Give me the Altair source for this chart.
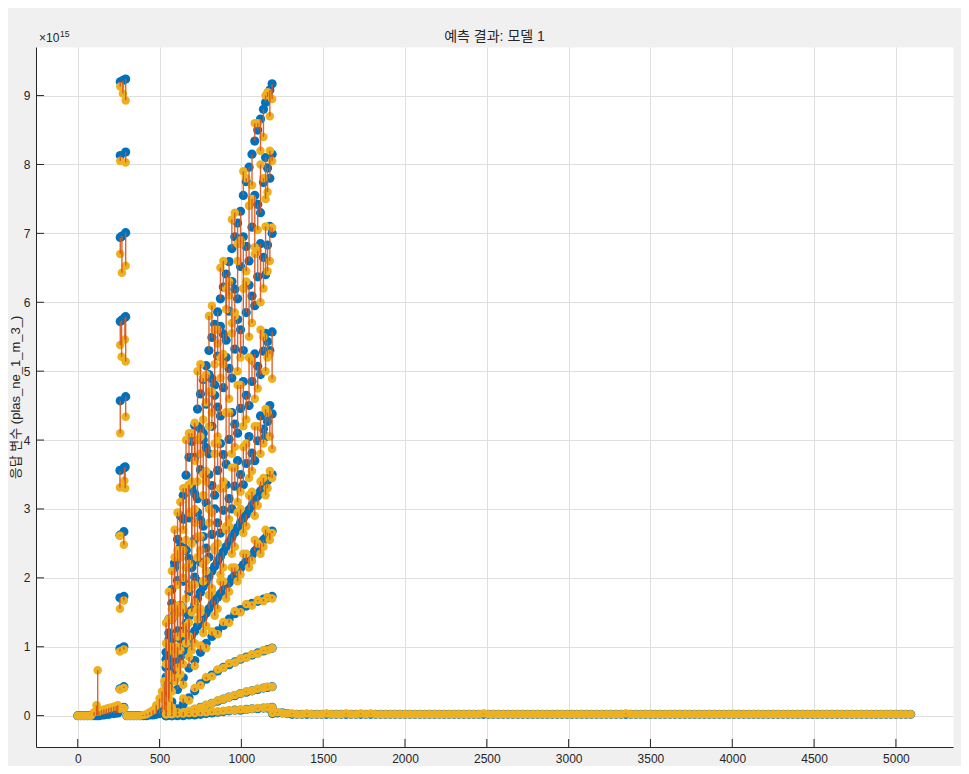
import altair as alt
import pandas as pd

# ---------------- data (units of 1e15) ----------------
# records 0-530: near-zero stretch with a small bump and one outlier prediction
low_rec = [0, 20, 40, 60, 80, 100, 115, 122, 130, 145, 160, 175, 190, 205, 220, 235, 245,
           300, 320, 340, 360, 380, 400, 420, 440, 460, 480, 500, 515, 530]
low_true = [0, 0, 0, 0, 0, 0.0, 0.0, 0.01, 0.0, 0.01, 0.01, 0.02, 0.02, 0.03, 0.03, 0.04, 0.04,
            0, 0, 0, 0, 0, 0, 0, 0.01, 0.01, 0.02, 0.03, 0.05, 0.08]
low_pred = [0, 0, 0, 0, 0, 0.05, 0.15, 0.66, 0.06, 0.08, 0.09, 0.10, 0.11, 0.12, 0.13, 0.14, 0.15,
            0, 0, 0, 0, 0, 0.01, 0.02, 0.05, 0.08, 0.15, 0.25, 0.35, 0.50]

# records ~255-295: the tall "ladder" of levels
ladder_rec = [260, 276, 293, 260, 293, 260, 270, 293, 260, 268, 288, 293, 260, 293,
              258, 285, 290, 258, 282, 258, 282, 258, 282, 258, 282, 258, 282]
ladder_true = [9.20, 9.22, 9.24, 8.13, 8.18, 6.94, 6.96, 7.01, 5.72, 5.74, 5.78, 5.79, 4.57, 4.63,
               3.56, 3.60, 3.61, 2.62, 2.67, 1.71, 1.73, 0.97, 1.00, 0.39, 0.42, 0.10, 0.12]
ladder_pred = [9.13, 9.03, 8.93, 8.05, 8.03, 6.70, 6.43, 6.53, 5.38, 5.21, 5.46, 5.14, 4.10, 4.34,
               3.31, 3.41, 3.30, 2.61, 2.48, 1.55, 1.67, 0.93, 0.96, 0.38, 0.40, 0.10, 0.11]

# records 540-1188: the fan of rising series (first set of records)
fan_rec = [540, 575, 610, 645, 680, 715, 750, 785, 820, 855,
           890, 925, 960, 995, 1030, 1065, 1100, 1135, 1160, 1188]

fan_true_1 = [0.92, 1.83, 2.56, 3.20, 3.75, 4.21, 4.67, 5.08, 5.49, 5.86,
              6.22, 6.59, 6.95, 7.32, 7.75, 8.15, 8.50, 8.80, 8.98, 9.17]
fan_pred_1 = [1.35, 1.40, 2.95, 2.70, 4.10, 3.70, 5.10, 4.55, 5.95, 5.40,
              6.60, 6.10, 7.30, 6.85, 7.80, 7.70, 8.60, 8.40, 9.05, 8.95]
fan_true_2 = [0.82, 1.63, 2.28, 2.85, 3.34, 3.75, 4.16, 4.52, 4.89, 5.22,
              5.54, 5.87, 6.19, 6.52, 6.81, 7.09, 7.42, 7.74, 7.95, 8.15]
fan_pred_2 = [0.50, 2.10, 1.90, 3.30, 2.95, 4.25, 3.80, 4.95, 4.40, 5.60,
              5.10, 6.30, 5.85, 6.90, 6.45, 7.50, 7.05, 7.80, 7.60, 8.05]
fan_true_3 = [0.70, 1.40, 1.96, 2.45, 2.87, 3.22, 3.57, 3.89, 4.20, 4.48,
              4.76, 5.04, 5.32, 5.60, 5.85, 6.09, 6.37, 6.65, 6.83, 7.00]
fan_pred_3 = [1.05, 0.95, 2.40, 2.00, 3.35, 2.80, 4.05, 3.40, 4.70, 4.05,
              5.25, 4.60, 5.80, 5.20, 6.30, 5.70, 6.75, 6.20, 6.45, 7.08]
fan_true_4 = [0.56, 1.11, 1.56, 1.95, 2.28, 2.56, 2.84, 3.09, 3.34, 3.56,
              3.79, 4.01, 4.23, 4.46, 4.65, 4.85, 5.07, 5.29, 5.43, 5.57]
fan_pred_4 = [0.30, 1.55, 1.15, 2.40, 1.85, 3.00, 2.40, 3.55, 2.95, 3.95,
              3.40, 4.40, 3.90, 4.80, 4.30, 5.15, 4.75, 5.50, 5.20, 4.89]
fan_true_5 = [0.44, 0.88, 1.23, 1.53, 1.80, 2.01, 2.23, 2.43, 2.63, 2.80,
              2.98, 3.15, 3.33, 3.50, 3.66, 3.81, 3.99, 4.16, 4.27, 4.38]
fan_pred_5 = [0.75, 0.55, 1.60, 1.20, 2.20, 1.65, 2.60, 2.10, 2.95, 2.50,
              3.30, 2.85, 3.60, 3.25, 3.95, 3.55, 4.20, 3.95, 4.40, 3.87]
fan_true_6 = [0.35, 0.70, 0.98, 1.23, 1.44, 1.61, 1.79, 1.94, 2.10, 2.24,
              2.38, 2.52, 2.66, 2.80, 2.92, 3.05, 3.19, 3.33, 3.41, 3.50]
fan_pred_6 = [0.15, 1.00, 0.70, 1.55, 1.15, 1.90, 1.50, 2.25, 1.85, 2.50,
              2.15, 2.75, 2.45, 3.00, 2.75, 3.25, 3.05, 3.45, 3.30, 3.45]
fan_true_7 = [0.27, 0.54, 0.75, 0.94, 1.10, 1.23, 1.37, 1.49, 1.61, 1.72,
              1.82, 1.93, 2.04, 2.14, 2.24, 2.33, 2.44, 2.55, 2.61, 2.68]
fan_pred_7 = [0.45, 0.35, 1.00, 0.75, 1.35, 1.05, 1.55, 1.30, 1.80, 1.55,
              1.95, 1.80, 2.15, 2.05, 2.35, 2.25, 2.50, 2.45, 2.66, 2.65]
fan_true_8 = [0.05, 0.20, 0.38, 0.55, 0.69, 0.80, 0.92, 1.05, 1.15, 1.23,
              1.31, 1.40, 1.48, 1.54, 1.59, 1.63, 1.66, 1.69, 1.71, 1.73]
fan_pred_8 = [0.20, 0.10, 0.55, 0.45, 0.85, 0.72, 1.02, 0.98, 1.22, 1.18,
              1.36, 1.35, 1.52, 1.50, 1.62, 1.60, 1.68, 1.66, 1.72, 1.70]
fan_true_9 = [0.00, 0.04, 0.10, 0.17, 0.26, 0.36, 0.46, 0.53, 0.59, 0.65,
              0.70, 0.74, 0.78, 0.82, 0.85, 0.88, 0.91, 0.94, 0.96, 0.98]
fan_pred_9 = [0.08, 0.12, 0.05, 0.25, 0.22, 0.40, 0.44, 0.56, 0.57, 0.67,
              0.69, 0.76, 0.77, 0.83, 0.84, 0.89, 0.90, 0.95, 0.95, 0.98]
fan_true_10 = [0.00, 0.00, 0.01, 0.03, 0.06, 0.09, 0.12, 0.15, 0.18, 0.21,
               0.24, 0.27, 0.29, 0.32, 0.34, 0.36, 0.38, 0.40, 0.41, 0.42]
fan_pred_10 = [0.02, 0.03, 0.04, 0.05, 0.07, 0.10, 0.12, 0.16, 0.18, 0.22,
               0.24, 0.27, 0.30, 0.32, 0.35, 0.36, 0.39, 0.40, 0.42, 0.42]
fan_true_11 = [0.00, 0.00, 0.00, 0.00, 0.01, 0.01, 0.02, 0.03, 0.04, 0.05,
               0.06, 0.07, 0.08, 0.08, 0.09, 0.10, 0.10, 0.11, 0.11, 0.12]
fan_pred_11 = [0.02, 0.02, 0.03, 0.03, 0.04, 0.04, 0.05, 0.05, 0.06, 0.06,
               0.07, 0.08, 0.08, 0.09, 0.09, 0.10, 0.11, 0.11, 0.12, 0.12]

# records 557-1174: the fan, second (interleaved) set of records for the upper series
fan2_rec = [557, 592, 627, 662, 697, 732, 767, 802, 837, 872,
            907, 942, 977, 1012, 1047, 1082, 1117, 1148, 1174]

fan2_true_1 = [1.40, 2.22, 2.90, 3.49, 3.98, 4.45, 4.88, 5.30, 5.68, 6.05,
               6.41, 6.78, 7.15, 7.55, 7.96, 8.34, 8.66, 8.90, 9.08]
fan2_pred_1 = [0.60, 2.70, 2.30, 4.00, 3.40, 5.00, 4.30, 5.80, 5.10, 6.50,
               5.90, 7.20, 6.60, 7.90, 7.40, 8.60, 8.20, 9.00, 8.70]
fan2_true_2 = [1.10, 2.15, 2.40, 3.30, 3.35, 4.20, 4.10, 4.95, 4.80, 5.65,
               5.45, 6.30, 6.05, 6.95, 6.60, 7.55, 7.30, 8.10, 7.80]
fan2_pred_2 = [1.80, 1.45, 3.10, 2.55, 4.10, 3.40, 4.90, 4.20, 5.60, 4.90,
               6.20, 5.55, 6.85, 6.20, 7.40, 6.80, 8.00, 7.50, 8.20]
fan2_true_3 = [1.20, 1.50, 2.45, 2.40, 3.30, 3.15, 4.00, 3.80, 4.65, 4.35,
               5.20, 4.90, 5.75, 5.30, 6.25, 5.95, 6.85, 6.40, 7.10]
fan2_pred_3 = [0.40, 2.30, 1.60, 3.30, 2.50, 4.00, 3.20, 4.70, 3.80, 5.20,
               4.40, 5.70, 5.00, 6.20, 5.50, 6.70, 6.00, 7.10, 6.60]
fan2_true_4 = [0.70, 1.55, 1.60, 2.40, 2.20, 2.95, 2.75, 3.50, 3.20, 3.95,
               3.65, 4.40, 4.10, 4.85, 4.50, 5.25, 4.95, 5.55, 5.30]
fan2_pred_4 = [1.40, 0.90, 2.30, 1.70, 2.95, 2.30, 3.50, 2.80, 3.95, 3.30,
               4.40, 3.80, 4.80, 4.20, 5.20, 4.60, 5.60, 5.00, 5.25]
fan2_true_5 = [0.80, 0.95, 1.60, 1.50, 2.15, 1.95, 2.60, 2.30, 3.00, 2.65,
               3.35, 3.00, 3.70, 3.35, 4.05, 3.70, 4.35, 4.05, 4.50]
fan2_pred_5 = [0.25, 1.55, 0.95, 2.15, 1.50, 2.60, 1.95, 3.00, 2.40, 3.30,
               2.75, 3.60, 3.10, 3.90, 3.45, 4.20, 3.80, 4.45, 4.05]
fan2_true_6 = [0.53, 0.84, 1.11, 1.34, 1.53, 1.70, 1.87, 2.02, 2.17, 2.31,
               2.45, 2.59, 2.73, 2.86, 2.99, 3.12, 3.26, 3.37, 3.46]
fan2_pred_6 = [1.00, 0.50, 1.50, 1.05, 1.90, 1.40, 2.20, 1.75, 2.45, 2.05,
               2.70, 2.35, 2.95, 2.65, 3.20, 2.90, 3.40, 3.20, 3.55]
fan2_true_7 = [0.41, 0.65, 0.85, 1.02, 1.17, 1.30, 1.43, 1.55, 1.67, 1.77,
               1.88, 1.99, 2.09, 2.19, 2.29, 2.39, 2.50, 2.58, 2.65]
fan2_pred_7 = [0.20, 0.95, 0.60, 1.30, 0.95, 1.55, 1.20, 1.75, 1.45, 1.95,
               1.70, 2.15, 1.95, 2.35, 2.15, 2.55, 2.35, 2.70, 2.55]

# records 1190-5090: flat band just above zero
band_rec = [1190, 1220, 1250, 1280, 1310, 1340, 1370, 1400, 1430, 1460,
            1490, 1520, 1550, 1580, 1610, 1640, 1670, 1700, 1730, 1760,
            1790, 1820, 1850, 1880, 1910, 1940, 1970, 2000, 2030, 2060,
            2090, 2120, 2150, 2180, 2210, 2240, 2270, 2300, 2330, 2360,
            2390, 2420, 2450, 2480, 2510, 2540, 2570, 2600, 2630, 2660,
            2690, 2720, 2750, 2780, 2810, 2840, 2870, 2900, 2930, 2960,
            2990, 3020, 3050, 3080, 3110, 3140, 3170, 3200, 3230, 3260,
            3290, 3320, 3350, 3380, 3410, 3440, 3470, 3500, 3530, 3560,
            3590, 3620, 3650, 3680, 3710, 3740, 3770, 3800, 3830, 3860,
            3890, 3920, 3950, 3980, 4010, 4040, 4070, 4100, 4130, 4160,
            4190, 4220, 4250, 4280, 4310, 4340, 4370, 4400, 4430, 4460,
            4490, 4520, 4550, 4580, 4610, 4640, 4670, 4700, 4730, 4760,
            4790, 4820, 4850, 4880, 4910, 4940, 4970, 5000, 5030, 5060,
            5090]
band_true = [0.03, 0.04, 0.04, 0.03, 0.02, 0.02, 0.02, 0.02, 0.02, 0.02,
             0.02, 0.02, 0.02, 0.02, 0.02, 0.02, 0.02, 0.02, 0.02, 0.02,
             0.02, 0.02, 0.02, 0.02, 0.02, 0.02, 0.02, 0.02, 0.02, 0.02,
             0.02, 0.02, 0.02, 0.02, 0.02, 0.02, 0.02, 0.02, 0.02, 0.02,
             0.02, 0.02, 0.02, 0.02, 0.02, 0.02, 0.02, 0.02, 0.02, 0.02,
             0.02, 0.02, 0.02, 0.02, 0.02, 0.02, 0.02, 0.02, 0.02, 0.02,
             0.02, 0.02, 0.02, 0.02, 0.02, 0.02, 0.02, 0.02, 0.02, 0.02,
             0.02, 0.02, 0.02, 0.02, 0.02, 0.02, 0.02, 0.02, 0.02, 0.02,
             0.02, 0.02, 0.02, 0.02, 0.02, 0.02, 0.02, 0.02, 0.02, 0.02,
             0.02, 0.02, 0.02, 0.02, 0.02, 0.02, 0.02, 0.02, 0.02, 0.02,
             0.02, 0.02, 0.02, 0.02, 0.02, 0.02, 0.02, 0.02, 0.02, 0.02,
             0.02, 0.02, 0.02, 0.02, 0.02, 0.02, 0.02, 0.02, 0.02, 0.02,
             0.02, 0.02, 0.02, 0.02, 0.02, 0.02, 0.02, 0.02, 0.02, 0.02,
             0.02]
band_pred = [0.04, 0.05, 0.04, 0.03, 0.03, 0.02, 0.02, 0.03, 0.02, 0.02,
             0.02, 0.03, 0.02, 0.02, 0.02, 0.03, 0.02, 0.02, 0.03, 0.02,
             0.03, 0.02, 0.02, 0.02, 0.02, 0.02, 0.02, 0.02, 0.02, 0.02,
             0.02, 0.02, 0.02, 0.02, 0.02, 0.02, 0.02, 0.02, 0.02, 0.02,
             0.02, 0.02, 0.02, 0.03, 0.02, 0.02, 0.02, 0.02, 0.02, 0.02,
             0.02, 0.02, 0.02, 0.02, 0.02, 0.02, 0.02, 0.02, 0.02, 0.02,
             0.02, 0.02, 0.02, 0.02, 0.02, 0.02, 0.02, 0.02, 0.02, 0.02,
             0.02, 0.02, 0.03, 0.02, 0.02, 0.02, 0.02, 0.02, 0.02, 0.02,
             0.02, 0.02, 0.02, 0.02, 0.02, 0.02, 0.02, 0.02, 0.02, 0.02,
             0.02, 0.02, 0.02, 0.02, 0.02, 0.02, 0.02, 0.02, 0.02, 0.02,
             0.02, 0.02, 0.02, 0.02, 0.02, 0.02, 0.02, 0.02, 0.02, 0.02,
             0.02, 0.02, 0.02, 0.02, 0.02, 0.02, 0.02, 0.02, 0.02, 0.02,
             0.02, 0.02, 0.02, 0.02, 0.02, 0.02, 0.02, 0.02, 0.02, 0.02,
             0.02]

x_tick_values = [0, 500, 1000, 1500, 2000, 2500, 3000, 3500, 4000, 4500, 5000]
y_tick_values = [0, 1, 2, 3, 4, 5, 6, 7, 8, 9]

title_text = "예측 결과: 모델 1"
x_title = "레코드 번호"
y_title = "응답 변수 (plas_ne_1_m_3_)"

# ---------------- build table ----------------
rows = []
for r, t, p in zip(low_rec, low_true, low_pred):
    rows.append((r, t, p))
for r, t, p in zip(ladder_rec, ladder_true, ladder_pred):
    rows.append((r, t, p))
fan_true = [fan_true_1, fan_true_2, fan_true_3, fan_true_4, fan_true_5, fan_true_6,
            fan_true_7, fan_true_8, fan_true_9, fan_true_10, fan_true_11]
fan_pred = [fan_pred_1, fan_pred_2, fan_pred_3, fan_pred_4, fan_pred_5, fan_pred_6,
            fan_pred_7, fan_pred_8, fan_pred_9, fan_pred_10, fan_pred_11]
for tl, pl in zip(fan_true, fan_pred):
    for r, t, p in zip(fan_rec, tl, pl):
        rows.append((r, t, p))
fan2_true = [fan2_true_1, fan2_true_2, fan2_true_3, fan2_true_4, fan2_true_5, fan2_true_6,
             fan2_true_7]
fan2_pred = [fan2_pred_1, fan2_pred_2, fan2_pred_3, fan2_pred_4, fan2_pred_5, fan2_pred_6,
             fan2_pred_7]
for tl, pl in zip(fan2_true, fan2_pred):
    for r, t, p in zip(fan2_rec, tl, pl):
        rows.append((r, t, p))
for r, t, p in zip(band_rec, band_true, band_pred):
    rows.append((r, t, p))
df = pd.DataFrame(rows, columns=["rec", "true", "pred"])

# ---------------- chart ----------------
W, H = 917, 700
FONT = "Liberation Sans, Arial, Noto Sans CJK KR"
DARK = "#262626"

xscale = alt.Scale(domain=[-255, 5349], nice=False, zero=False)
yscale = alt.Scale(domain=[-0.455, 9.705], nice=False, zero=False)

xaxis = alt.Axis(values=x_tick_values, grid=True, ticks=False, labelPadding=6,
                 titlePadding=8, format="d")
yaxis = alt.Axis(values=y_tick_values, grid=True, ticks=False, labelPadding=6,
                 titlePadding=1, format="d")

base = alt.Chart(df)

blue = base.mark_circle(size=85, color="#0072BD", opacity=1).encode(
    x=alt.X("rec:Q", scale=xscale, axis=xaxis, title=x_title),
    y=alt.Y("true:Q", scale=yscale, axis=yaxis, title=y_title),
)
yellow = base.mark_circle(size=72, color="#EDB120", opacity=1).encode(
    x=alt.X("rec:Q", scale=xscale, title=x_title),
    y=alt.Y("pred:Q", scale=yscale, title=y_title),
)
errors = base.mark_rule(color="#D95319", strokeWidth=1.4, opacity=0.9).encode(
    x=alt.X("rec:Q", scale=xscale, title=x_title),
    y=alt.Y("true:Q", scale=yscale, title=y_title),
    y2="pred:Q",
)

xticks = alt.Chart(pd.DataFrame({"t": x_tick_values})).mark_rule(color=DARK, strokeWidth=1).encode(
    x=alt.X("t:Q", scale=xscale, title=x_title),
    y=alt.value(H),
    y2=alt.value(H - 8),
)
yticks = alt.Chart(pd.DataFrame({"t": y_tick_values})).mark_rule(color=DARK, strokeWidth=1).encode(
    y=alt.Y("t:Q", scale=yscale, title=y_title),
    x=alt.value(0),
    x2=alt.value(8),
)

title_mark = alt.Chart(pd.DataFrame({"s": [title_text]})).mark_text(
    align="center", baseline="middle", fontSize=14, color=DARK, font=FONT
).encode(x=alt.value(W / 2), y=alt.value(-10), text="s:N")
exp_base = alt.Chart(pd.DataFrame({"s": ["×10"]})).mark_text(
    align="left", baseline="alphabetic", fontSize=12, color=DARK, font=FONT
).encode(x=alt.value(3), y=alt.value(-5), text="s:N")
exp_sup = alt.Chart(pd.DataFrame({"s": ["15"]})).mark_text(
    align="left", baseline="alphabetic", fontSize=8.5, color=DARK, font=FONT
).encode(x=alt.value(24), y=alt.value(-10), text="s:N")

chart = alt.layer(blue, yellow, errors, xticks, yticks, title_mark, exp_base, exp_sup).properties(
    width=W,
    height=H,
    padding={"left": 28, "top": 39, "right": 8, "bottom": 19},
    autosize=alt.AutoSizeParams(type="none"),
).configure(
    background="#F0F0F0",
).configure_view(
    fill="white", stroke="transparent"
).configure_axis(
    domainColor=DARK, domainWidth=1, gridColor="#DFDFDF", gridWidth=1,
    labelColor=DARK, labelFont=FONT, labelFontSize=12,
    titleColor=DARK, titleFont=FONT, titleFontSize=13, titleFontWeight="normal",
)

chart.save("out.html", embed_options={"renderer": "svg", "actions": False})
